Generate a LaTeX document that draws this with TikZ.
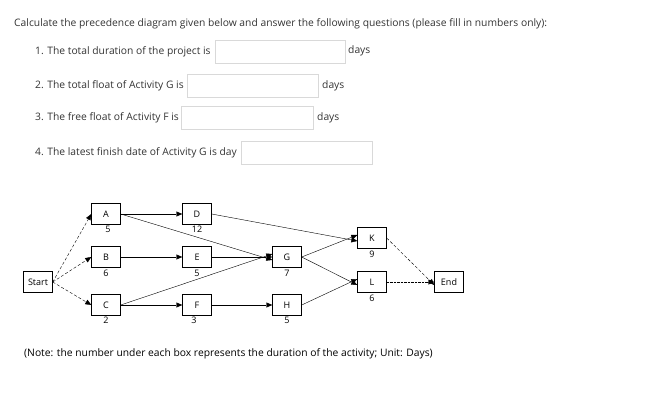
\documentclass[tikz,border=0pt]{standalone}
\usepackage{fontspec}
\setmainfont{Open Sans}
\usetikzlibrary{arrows.meta}
\begin{document}
\begin{tikzpicture}[x=1pt,y=-1pt,
 act/.style={draw,thin,minimum width=29pt,minimum height=21pt,inner sep=0pt,font=\fontsize{9}{10}\selectfont},
 dur/.style={font=\fontsize{9}{10}\selectfont,inner sep=0pt},
 q/.style={anchor=west,font=\fontsize{10.3}{12}\selectfont,text=black!80,inner sep=0pt},
 fill/.style={draw=black!15,minimum height=23pt,inner sep=0pt,anchor=west},
 arr/.style={-{Triangle[length=6pt,width=5pt]},thin},
 darr/.style={arr,densely dashed}]
\useasboundingbox (0,0) rectangle (660,401);
\node[q] (t) at (14,24) {Calculate the precedence diagram given below and answer the following questions (please fill in numbers only):};
\node[q] (q1) at (35,52) {1. The total duration of the project is};
\node[fill,minimum width=130pt] (b1) at (215,52) {}; \node[q] (d1) at (348,51) {days};
\node[q] (q2) at (35,86) {2. The total float of Activity G is};
\node[fill,minimum width=131pt] (b2) at (187,86) {}; \node[q] (d2) at (322,86) {days};
\node[q] (q3) at (35,118) {3. The free float of Activity F is};
\node[fill,minimum width=132pt] (b3) at (181,118) {}; \node[q] (d3) at (317,118) {days};
\node[q] (q4) at (35,153) {4. The latest finish date of Activity G is day};
\node[fill,minimum width=131pt] (b4) at (241,153) {};
\node[act] (S) at (38,282) {Start};
\node[act] (A) at (106,214) {A};
\node[act] (B) at (106,257) {B};
\node[act] (C) at (106,305) {C};
\node[act] (D) at (197,214) {D};
\node[act] (E) at (197,257) {E};
\node[act] (F) at (197,305) {F};
\node[act] (G) at (287,257) {G};
\node[act] (H) at (287,305) {H};
\node[act] (K) at (372,238) {K};
\node[act] (L) at (372,282) {L};
\node[act] (N) at (449,282) {End};
\node[dur] at (108,229) {5};
\node[dur] at (106,273) {6};
\node[dur] at (106,320) {2};
\node[dur] at (197,229) {12};
\node[dur] at (197,273) {5};
\node[dur] at (194,320) {3};
\node[dur] at (287,273) {7};
\node[dur] at (287,320) {5};
\node[dur] at (372,254) {9};
\node[dur] at (372,298) {6};
\draw[darr] (S.east) -- (A.west);
\draw[darr] (S.east) -- (B.west);
\draw[darr] (S.east) -- (C.west);
\draw[arr] (A.east) -- (D.west);
\draw[arr] (A.east) -- ([yshift=-3pt]G.west);
\draw[arr] (B.east) -- (E.west);
\draw[arr] (E.east) -- (G.west);
\draw[arr] (C.east) -- ([yshift=3pt]G.west);
\draw[arr] (C.east) -- (F.west);
\draw[arr] (F.east) -- (H.west);
\draw[arr] (D.east) -- ([yshift=-3pt]K.west);
\draw[arr] (G.east) -- ([yshift=3pt]K.west);
\draw[arr] (G.east) -- ([yshift=-3pt]L.west);
\draw[arr] (H.east) -- ([yshift=3pt]L.west);
\draw[darr] (K.east) -- ([yshift=-3pt]N.west);
\draw[arr,densely dotted] (L.east) -- (N.west);
\node[q,text=black] (note) at (24,354) {(Note: the number under each box represents the duration of the activity; Unit: Days)};
\end{tikzpicture}
\end{document}
